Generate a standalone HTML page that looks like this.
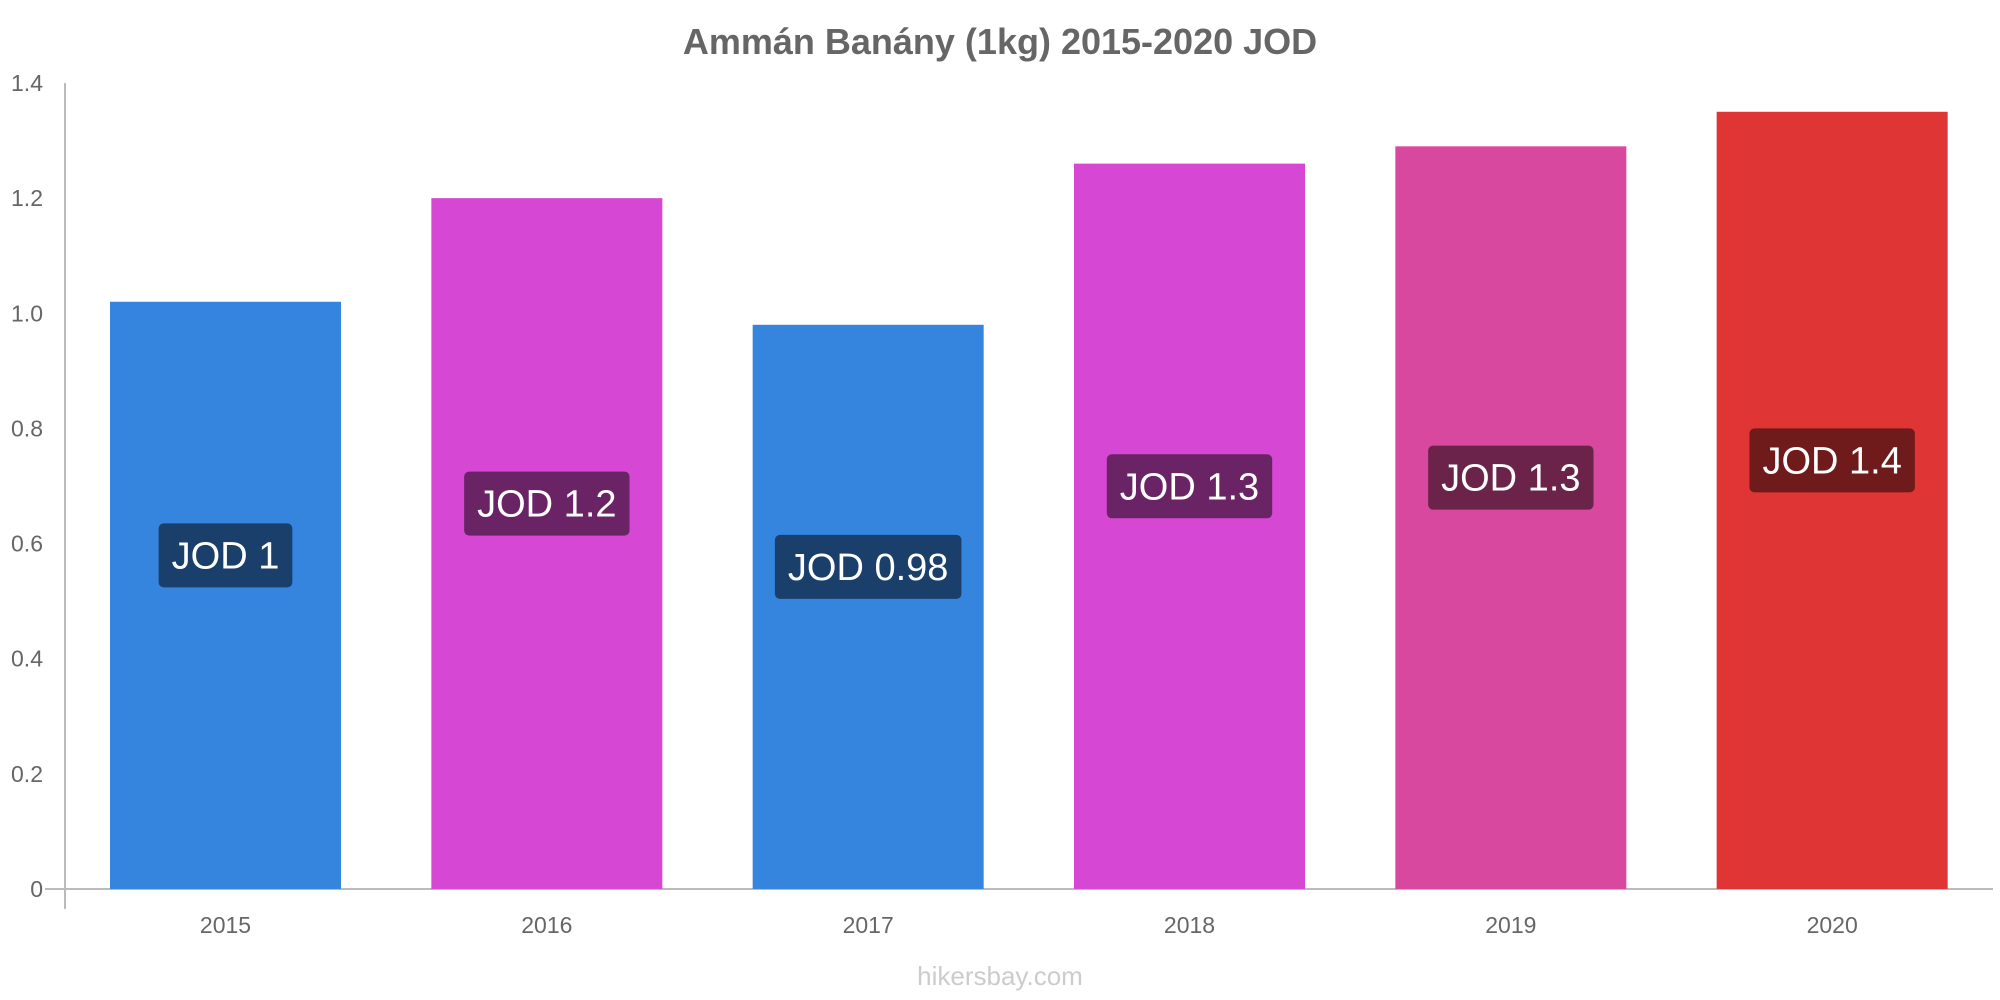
<!DOCTYPE html>
<html><head><meta charset="utf-8"><style>
body{margin:0;background:#fff;}
svg{display:block;font-family:"Liberation Sans",sans-serif;}
</style></head><body>
<svg id="chart" width="2000" height="1000" viewBox="0 0 2000 1000">
<text x="1000" y="54" text-anchor="middle" font-size="36" font-weight="bold" fill="#666">Ammán Banány (1kg) 2015-2020 JOD</text>
<g id="axes"></g><g id="bars"></g>
<text x="1000" y="985" text-anchor="middle" font-size="26" fill="#ccc">hikersbay.com</text>
</svg>
<script>
const categories=["2015","2016","2017","2018","2019","2020"];
const values=[1.02,1.2,0.98,1.26,1.29,1.35];
const labels=["JOD 1","JOD 1.2","JOD 0.98","JOD 1.3","JOD 1.3","JOD 1.4"];
const yTicks=[0,0.2,0.4,0.6,0.8,1.0,1.2,1.4];
const yTickLabels=["0","0.2","0.4","0.6","0.8","1.0","1.2","1.4"];
const barColors=["#3584de","#d648d3","#3584de","#d648d3","#d8489e","#e03535"];
const labelColors=["#1b3f6b","#6a2466","#1b3f6b","#6a2466","#6b2349","#701b1b"];
const NS="http://www.w3.org/2000/svg";
const x0=65,x1=1993,yBase=889,yTop=83,yMax=1.4;
const band=(x1-x0)/categories.length;
const y=v=>yBase-(v/yMax)*(yBase-yTop);
const xb=i=>x0+band*i;
function mk(t,a,p){const e=document.createElementNS(NS,t);for(const k in a)e.setAttribute(k,a[k]);p.appendChild(e);return e;}
const ax=document.getElementById('axes'),bg=document.getElementById('bars');
let l=mk('line',{x1:x0,y1:yTop,x2:x0,y2:yBase+20,stroke:'#bbb','stroke-width':2},ax);


l=mk('line',{x1:x0-20,y1:yBase,x2:x1,y2:yBase,stroke:'#bbb','stroke-width':2},ax);


yTicks.forEach((v,i)=>{const t=mk('text',{x:43,y:y(v)+8,'text-anchor':'end','font-size':23,fill:'#666'},ax);t.textContent=yTickLabels[i];

});
categories.forEach((c,i)=>{
const bx=xb(i)+45,bw=231,cx=bx+bw/2;
const r=mk('rect',{x:bx,y:y(values[i]),width:bw,height:yBase-y(values[i]),fill:barColors[i]},bg);


const t=mk('text',{x:cx,y:yBase+44,'text-anchor':'middle','font-size':23,fill:'#666'},ax);t.textContent=c;


const ly=(y(values[i])+yBase)/2-40;
const lt=mk('text',{x:cx,y:ly+13,'text-anchor':'middle','font-size':38,fill:'#fff'},bg);lt.textContent=labels[i];
const w=lt.getComputedTextLength()+26;
const lb=mk('rect',{x:cx-w/2,y:ly-32,width:w,height:64,rx:5,fill:labelColors[i]},bg);
bg.insertBefore(lb,lt);




});
</script>
</body></html>
